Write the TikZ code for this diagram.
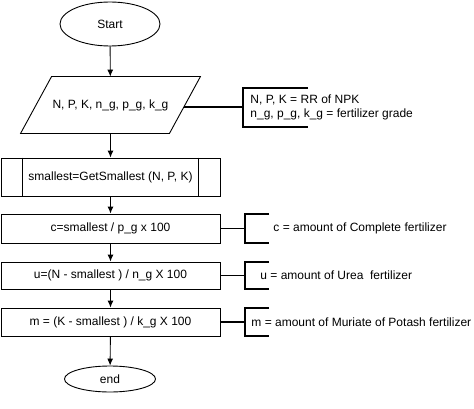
\documentclass[tikz,border=0pt]{standalone}
\usepackage{fontspec}
\setmainfont{Liberation Sans}
\usetikzlibrary{shapes.geometric, arrows.meta}

\tikzset{
	terminal/.style	= {draw, ellipse, inner sep=0pt},
	process/.style	= {draw, rectangle, minimum width=219pt, inner sep=0pt},
	inout/.style	= {rectangle, minimum width=179pt, minimum height=56pt, inner sep=0pt},
	note/.style		= {anchor=west, align=left, inner sep=0pt},
	brace/.style	= {black, line width=1.8pt},
}

\begin{document}
\begin{tikzpicture}[x=1pt, y=1pt, line width=0.9pt, >={Latex[length=7pt, width=6pt]}, font=\fontsize{12}{14}\selectfont]
		\useasboundingbox (0, 0) rectangle (474, 408);

		% flow
		\node[terminal, minimum width=100pt, minimum height=44pt]	(start)	at (110, 384)	{Start};
		\node[inout]												(input)	at (110.5, 303)	{N, P, K, n\_g, p\_g, k\_g};
		\node[process, minimum height=38pt]							(small)	at (110.5, 231)	{smallest=GetSmallest (N, P, K)};
		\node[process, minimum height=29pt]							(comp)	at (110.5, 179.5)	{c=smallest / p\_g x 100};
		\node[process, minimum height=27pt]							(urea)	at (110.5, 132.5)	{u=(N - smallest ) / n\_g X 100};
		\node[process, minimum height=28pt]							(pot)	at (110.5, 86)	{m = (K - smallest ) / k\_g X 100};
		\node[terminal, minimum width=91pt, minimum height=26pt]	(end)	at (110, 29)	{end};

		\draw ([xshift=31pt]input.north west) -- (input.north east)
			-- ([xshift=-31pt]input.south east) -- (input.south west) -- cycle;
		\draw (small.north west) ++(22, 0) -- ++(0, -38);
		\draw (small.north east) ++(-22, 0) -- ++(0, -38);

		\draw[->]	(start) to (input);
		\draw[->]	(input) to (small);
		\draw[->]	(small) to (comp);
		\draw[->]	(comp) to (urea);
		\draw[->]	(urea) to (pot);
		\draw[->]	(pot) to (end);

		% notes
		\coordinate	(inputb)	at (243, 301);
		\coordinate	(compb)		at (245, 179.5);
		\coordinate	(ureab)		at (245, 132.5);
		\coordinate	(potb)		at (245, 86);

		\node[note]	(inputn)	at (250, 301)	{N, P, K = RR of NPK\\n\_g, p\_g, k\_g = fertilizer grade};
		\node[note]	(compn)		at (273, 179.5)	{c = amount of Complete fertilizer};
		\node[note]	(urean)		at (260, 132.5)	{u = amount of Urea\ \ fertilizer};
		\node[note]	(potn)		at (251, 86)	{m = amount of Muriate of Potash fertilizer};

		\draw[brace]	([xshift=-16pt]input.east |- inputb) to (inputb);
		\draw[brace]	(comp.east) to (compb);
		\draw[brace]	(urea.east) to (ureab);
		\draw[brace]	(pot.east) to (potb);

		\draw[brace]	(inputb) ++(65, 19) -- ++(-65, 0) -- ++(0, -39) -- ++(65, 0);
		\draw[brace]	(compb) ++(24, 14.5) -- ++(-24, 0) -- ++(0, -29) -- ++(24, 0);
		\draw[brace]	(ureab) ++(24, 13.5) -- ++(-24, 0) -- ++(0, -27) -- ++(24, 0);
		\draw[brace]	(potb) ++(24, 14) -- ++(-24, 0) -- ++(0, -28) -- ++(24, 0);
	\end{tikzpicture}
\end{document}
